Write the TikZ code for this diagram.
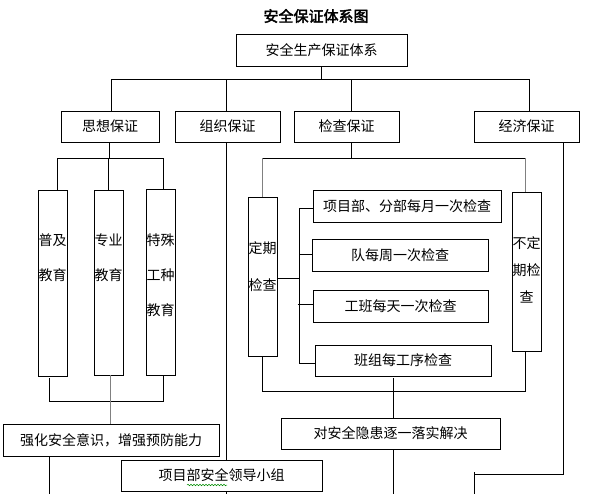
\documentclass[tikz,border=0pt]{standalone}
\usepackage{fontspec}
\setmainfont{Noto Sans CJK SC}[AutoFakeBold=2.5]
\usetikzlibrary{decorations.pathmorphing}
\begin{document}
\begin{tikzpicture}[x=1pt,y=-1pt,
  box/.style={draw, line width=0.8pt, fill=white, inner sep=0pt, font=\fontsize{14}{16}\selectfont},
  vbox/.style={draw, line width=0.8pt, fill=white, inner sep=0pt, minimum width=29pt},
  vtext/.style={inner sep=0pt, align=center, font=\fontsize{14}{#1}\selectfont},
  vtext/.default=35,
  wire/.style={line width=0.8pt},
  gwire/.style={line width=0.9pt, draw=black!50}]
\useasboundingbox (0,0) rectangle (593,494);
\coordinate (busA) at (0,79);
\coordinate (busB) at (0,158);
\coordinate (busC) at (0,401);
\coordinate (busD) at (0,391);
\coordinate (spine) at (299,0);
\coordinate (bot) at (0,494);
\coordinate (jjturn) at (0,474);
\coordinate (jjend) at (474,494);
\coordinate (wv1) at (187,485);
\coordinate (wv2) at (227,485);

\node[inner sep=0pt, font=\fontsize{15}{17}\selectfont\bfseries] (title) at (316,16) {安全保证体系图};
\node[box, minimum width=171pt, minimum height=32pt] (top) at (321.5,50) {安全生产保证体系};

\node[box, minimum width=98pt, minimum height=31pt] (sx) at (110,126.5) {思想保证};
\node[box, minimum width=105pt, minimum height=31pt] (zz) at (227.5,126.5) {组织保证};
\node[box, minimum width=105pt, minimum height=31pt] (jc) at (346.5,126.5) {检查保证};
\node[box, minimum width=105pt, minimum height=31pt] (jj) at (526.5,126.5) {经济保证};

\node[vbox, minimum height=186pt] (pj) at (52.5,283) {};
\node[vbox, minimum height=185pt] (zy) at (108.5,282.5) {};
\node[vbox, minimum height=186pt] (ts) at (160.5,282) {};
\node[vtext] (pjt) at (52.5,257.5) {普及\\教育};
\node[vtext] (zyt) at (108.5,257.5) {专业\\教育};
\node[vtext] (tst) at (160.5,275) {特殊\\工种\\教育};

\node[box, minimum width=216pt, minimum height=32pt] (qh) at (111,440) {强化安全意识，增强预防能力};

\node[vbox, minimum height=159pt] (dq) at (262.5,276.5) {};
\node[vbox, minimum height=159pt] (bd) at (526.5,271.5) {};
\node[vtext=37] (dqt) at (262.5,266.5) {定期\\检查};
\node[vtext=27] (bdt) at (526.5,270) {不定\\期检\\查};

\node[box, minimum width=188pt, minimum height=32pt] (c1) at (407,206) {项目部、分部每月一次检查};
\node[box, minimum width=176pt, minimum height=32pt] (c2) at (400,255) {队每周一次检查};
\node[box, minimum width=175pt, minimum height=32pt] (c3) at (400.5,306) {工班每天一次检查};
\node[box, minimum width=176pt, minimum height=31pt] (c4) at (403,360.5) {班组每工序检查};

\node[box, minimum width=219pt, minimum height=31pt] (ds) at (390.5,433.5) {对安全隐患逐一落实解决};

% top level
\draw[wire] (top.south) -- (top.south |- busA);
\draw[wire] ([xshift=1pt]sx.north) -- ([xshift=1pt]sx.north |- busA) -- ([xshift=2.5pt]jj.north |- busA) -- ([xshift=2.5pt]jj.north);
\draw[wire] ([xshift=-1.5pt]zz.north) -- ([xshift=-1.5pt]zz.north |- busA);
\draw[wire] ([xshift=4.5pt]jc.north) -- ([xshift=4.5pt]jc.north |- busA);

% education branch
\draw[wire] ([xshift=-1pt]sx.south) -- ([xshift=-1pt]sx.south |- busB);
\draw[wire] ([xshift=4.5pt]pj.north) -- ([xshift=4.5pt]pj.north |- busB) -- ([xshift=2.5pt]ts.north |- busB) -- ([xshift=2.5pt]ts.north);
\draw[wire] (zy.north) -- (zy.north |- busB);
\draw[wire] ([xshift=-3.5pt,yshift=-2pt]pj.south) -- ([xshift=-3.5pt]pj.south |- busC) -- ([xshift=2.5pt]ts.south |- busC) -- ([xshift=2.5pt]ts.south);
\draw[gwire] ([xshift=1.5pt]zy.south) -- ([xshift=1.5pt]zy.south |- qh.north);
\draw[wire] ([xshift=-62pt]qh.south) -- ([xshift=-62pt]qh.south |- bot);

% organisation
\draw[wire] ([xshift=-1.5pt]zz.south) -- ([xshift=-1.5pt]zz.south |- bot);

% check branch
\draw[wire] ([xshift=4.5pt]jc.south) -- ([xshift=4.5pt]jc.south |- busB);
\draw[wire] ([xshift=-0.5pt]dq.north |- busB) -- ([xshift=-1.5pt]bd.north |- busB);
\draw[gwire] ([xshift=-0.5pt]dq.north) -- ([xshift=-0.5pt]dq.north |- busB);
\draw[gwire] ([xshift=-1.5pt]bd.north) -- ([xshift=-1.5pt]bd.north |- busB);
\draw[wire] ([yshift=-1.5pt]dq.east) -- ([yshift=-1.5pt]dq.east -| spine);
\draw[wire] ([yshift=-2pt]c1.west) -- ([yshift=-2pt]c1.west -| spine) -- ([yshift=-2.5pt]c4.west -| spine) -- ([yshift=-2.5pt]c4.west);
\draw[wire] ([yshift=1pt]c2.west) -- ([yshift=1pt]c2.west -| spine);
\draw[wire] ([xshift=-1.5pt,yshift=2pt]c3.west -| spine) -- ([yshift=2pt]c3.west);
\draw[wire] ([xshift=-0.5pt]dq.south) -- ([xshift=-0.5pt]dq.south |- busD) -- ([xshift=-1.5pt]bd.south |- busD) -- ([xshift=-1.5pt]bd.south);
\draw[wire] ([xshift=-10pt,yshift=-2pt]c4.south) -- ([xshift=-10pt]c4.south |- ds.north);
\draw[wire] ([xshift=2.5pt]ds.south) -- ([xshift=2.5pt]ds.south |- bot);

% economic
\draw[wire] ([xshift=36.5pt]jj.south) -- ([xshift=36.5pt]jj.south |- jjturn) -- (jjend |- jjturn) -- (jjend);
\draw[wire] (jjend |- jjturn) -- ([yshift=2pt]jjend |- jjturn);

% leadership box drawn over the organisation line
\node[box, minimum width=201pt, minimum height=31pt] (xm) at (221.5,475.5) {项目部安全领导小组};
\draw[green!55!black, line width=0.5pt, decorate, decoration={snake, amplitude=0.8pt, segment length=3pt}] (wv1) -- (wv2);
\end{tikzpicture}
\end{document}
